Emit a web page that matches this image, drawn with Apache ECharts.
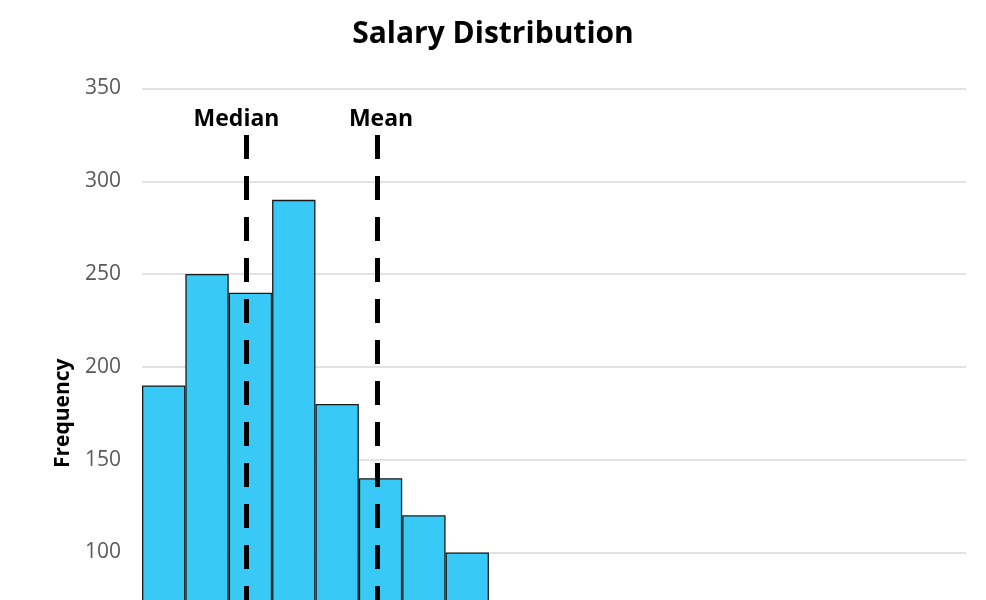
<!DOCTYPE html>
<html>
<head>
<meta charset="utf-8">
<style>
  html, body { margin: 0; padding: 0; background: #fff; }
  #chart { width: 986px; height: 600px; }
</style>
<script src="https://cdn.jsdelivr.net/npm/echarts@6/dist/echarts.min.js"></script>
</head>
<body>
<div id="chart"></div>
<script>
// salary bins (only the top part of the chart is visible in the picture)
const bins = ['20k', '25k', '30k', '35k', '40k', '45k', '50k', '55k', '60k', '65k',
  '70k', '75k', '80k', '85k', '90k', '95k', '100k', '105k', '110k'];
const frequency = [190, 250, 240, 290, 180, 140, 120, 100, 70, 55,
  42, 33, 25, 18, 12, 8, 5, 3, 2];
const yTicks = [0, 350, 50]; // min, max, interval
// marker positions in bin units along the x axis
const markers = [
  { name: 'Median', pos: 2.41 },
  { name: 'Mean', pos: 5.42 },
];
const markerTop = 325;
const labelShift = { Median: -10, Mean: 4 };

const chart = echarts.init(document.getElementById('chart'));
const font = '"Open Sans", sans-serif';

chart.setOption({
  animation: false,
  title: {
    text: 'Salary Distribution',
    left: 'center',
    top: 14,
    textStyle: { fontFamily: font, fontSize: 30, fontWeight: 'bold', color: '#000' },
  },
  grid: { left: 142, right: 20, top: 88.5, height: 649.5, outerBoundsMode: 'none', containLabel: false },
  xAxis: [
    {
      type: 'category',
      data: bins,
      axisLine: { lineStyle: { color: '#d9d9d9' } },
      axisTick: { show: false },
      axisLabel: { color: '#595959', fontFamily: font },
    },
    { type: 'value', min: 0, max: bins.length, show: false },
  ],
  yAxis: {
    type: 'value',
    min: yTicks[0],
    max: yTicks[1],
    interval: yTicks[2],
    name: 'Frequency',
    nameLocation: 'middle',
    nameGap: 68,
    nameTextStyle: { fontFamily: font, fontSize: 21, fontWeight: 'bold', color: '#000' },
    axisLine: { show: false },
    axisTick: { show: false },
    axisLabel: { color: '#595959', fontSize: 21, fontFamily: font, margin: 21 },
    splitLine: { lineStyle: { color: '#d9d9d9', width: 1.5 } },
  },
  series: [
    {
      type: 'bar',
      data: frequency,
      barCategoryGap: 0,
      itemStyle: { color: '#38c9f7', borderColor: '#1a1a1a', borderWidth: 1.3 },
    },
    {
      type: 'line',
      xAxisIndex: 1,
      data: [],
      markLine: {
        silent: true,
        symbol: ['none', 'none'],
        lineStyle: { color: '#000', width: 5, type: [24, 17] },
        label: {
          show: true,
          position: 'start',
          distance: 4,
          color: '#000',
          fontFamily: font,
          fontSize: 23,
          fontWeight: 'bold',
          formatter: (p) => p.name,
        },
        data: markers.map(m => [
          { name: m.name, coord: [m.pos, markerTop], label: { offset: [labelShift[m.name], 0] } },
          { coord: [m.pos, 0] },
        ]),
      },
    },
  ],
});
</script>
</body>
</html>
